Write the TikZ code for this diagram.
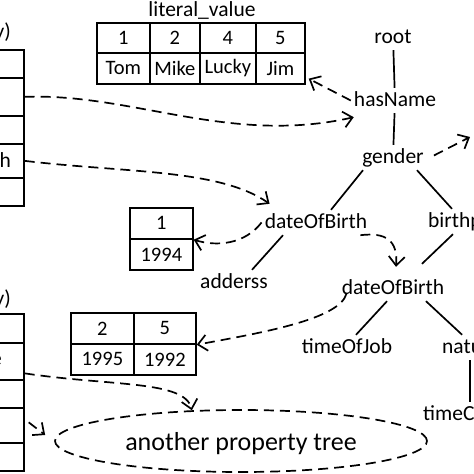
\documentclass[tikz,border=0pt]{standalone}
\usepackage{fontspec}
\setmainfont{Carlito}
\usetikzlibrary{arrows.meta,shapes.geometric}

\begin{document}
\begin{tikzpicture}[x=1pt,y=-1pt,
    word/.style={inner sep=3pt,text height=15pt,text depth=4pt,font=\fontsize{21.5}{24}\selectfont},
    cell/.style={draw,line width=1.7pt,inner sep=0pt,anchor=north west,font=\fontsize{20.5}{23}\selectfont},
    tree/.style={line width=1.7pt},
    link/.style={line width=1.7pt,dash pattern=on 10pt off 6pt,-{Straight Barb[length=9pt,width=16pt]}},
    cloud/.style={draw,ellipse,line width=1.7pt,dash pattern=on 10pt off 6pt,inner sep=0pt,minimum width=372pt,minimum height=62pt}]
    \useasboundingbox (0,0) rectangle (474,474);
    \clip (0,0) rectangle (474,474);

    \node[word,anchor=base] (lvTitle) at (202,16) {literal\_value};
    \node[cell,minimum width=53pt,minimum height=30pt] (lv1) at (96,22) {1};
    \node[cell,minimum width=50pt,minimum height=30pt] (lv2) at (149,22) {2};
    \node[cell,minimum width=56pt,minimum height=30pt] (lv4) at (199,22) {4};
    \node[cell,minimum width=49pt,minimum height=30pt] (lv5) at (255,22) {5};
    \node[cell,minimum width=53pt,minimum height=31pt] (lvTom) at (96,52) {Tom};
    \node[cell,minimum width=50pt,minimum height=31pt] (lvMike) at (149,52) {Mike};
    \node[cell,minimum width=56pt,minimum height=31pt] (lvLucky) at (199,52) {Lucky};
    \node[cell,minimum width=49pt,minimum height=31pt] (lvJim) at (255,52) {Jim};

    \node[cell,minimum width=63pt,minimum height=31pt] (dobKey) at (129,207) {1};
    \node[cell,minimum width=63pt,minimum height=31pt] (dobVal) at (129,238) {1994};

    \node[cell,minimum width=63pt,minimum height=31pt] (t2) at (70,312) {2};
    \node[cell,minimum width=62pt,minimum height=31pt] (t5) at (133,312) {5};
    \node[cell,minimum width=63pt,minimum height=31pt] (t1995) at (70,343) {1995};
    \node[cell,minimum width=62pt,minimum height=31pt] (t1992) at (133,343) {1992};

    \node[cell,minimum width=63pt,minimum height=28pt] (pa1) at (-40,49) {};
    \node[cell,minimum width=63pt,minimum height=38pt] (pa2) at (-40,77) {};
    \node[cell,minimum width=63pt,minimum height=28pt] (pa3) at (-40,115) {};
    \node[cell,minimum width=63pt,minimum height=34pt] (pa4) at (-40,143) {};
    \node[cell,minimum width=63pt,minimum height=28pt] (pa5) at (-40,177) {};
    \node[word,anchor=base east] (paHead) at (14,38) {y)};
    \node[word,anchor=base east] (paText) at (14,167) {h};

    \node[cell,minimum width=63pt,minimum height=29pt] (pb1) at (-40,313) {};
    \node[cell,minimum width=63pt,minimum height=37pt] (pb2) at (-40,342) {};
    \node[cell,minimum width=63pt,minimum height=28pt] (pb3) at (-40,379) {};
    \node[cell,minimum width=63pt,minimum height=35pt] (pb4) at (-40,407) {};
    \node[cell,minimum width=63pt,minimum height=28pt] (pb5) at (-40,442) {};
    \node[word,anchor=base east] (pbHead) at (14,305) {y)};
    \node[word,anchor=base east] (pbText) at (5,365) {e};

    \node[word,anchor=base] (root) at (393,43) {root};
    \node[word,anchor=base] (hasName) at (395,106) {hasName};
    \node[word,anchor=base] (gender) at (393,163) {gender};
    \node[word,anchor=base] (dob) at (316,228) {dateOfBirth};
    \node[word,anchor=base west] (birthp) at (425,227) {birthp};
    \node[word,anchor=base] (adderss) at (234,288) {adderss};
    \node[word,anchor=base] (dob2) at (393,294) {dateOfBirth};
    \node[word,anchor=base] (timeOfJob) at (347,353) {timeOfJob};
    \node[word,anchor=base west] (natu) at (439,353) {natu};
    \node[word,anchor=base west] (timeC) at (420,420) {timeC};

    \node[cloud] (apt) at (241,441) {};
    \node[anchor=base,font=\fontsize{26}{30}\selectfont] (aptLabel) at (241,450) {another property tree};
    \coordinate (offRight) at (470,137);

    \draw[tree] (root) -- (hasName);
    \draw[tree] (hasName) -- (gender);
    \draw[tree] ([xshift=-30pt]gender.south) -- ([xshift=15pt]dob.north);
    \draw[tree] ([xshift=24pt]gender.south) -- ([xshift=-3pt]birthp.north);
    \draw[tree] ([xshift=-2pt]birthp.south) -- ([xshift=29pt,yshift=12pt]dob2.north);
    \draw[tree] ([xshift=-33pt]dob.south) -- ([xshift=18pt]adderss.north);
    \draw[tree] ([xshift=-6pt]dob2.south) -- ([xshift=9pt]timeOfJob.north);
    \draw[tree] ([xshift=33pt]dob2.south) -- (natu.north);
    \draw[tree] ([xshift=8pt]natu.south) -- ([xshift=8pt]natu.south |- timeC.north);

    \draw[link] (hasName.west) -- ([xshift=3pt,yshift=6pt]lvJim.south east);
    \draw[link] (pa2.east) .. controls +(107,-4) and +(-124,28) .. ([xshift=3pt,yshift=-4pt]hasName.south west);
    \draw[link] ([xshift=7pt,yshift=2pt]gender.east) -- (offRight);
    \draw[link] (pa4.east) .. controls +(100,12) and +(-50,-35) .. ([xshift=8pt,yshift=6pt]dob.north west);
    \draw[link] (dob.west) .. controls +(-17,22) and +(23,7) .. (dobKey.south east);
    \draw[link] ([xshift=-10pt]dob.south east) .. controls +(25,-3) and +(2,-27) .. ([xshift=3pt,yshift=9pt]dob2.north);
    \draw[link] ([xshift=8pt,yshift=-5pt]dob2.west) .. controls +(-7,26) and +(65,-12) .. (t5.south east);
    \draw[link] ([yshift=-12pt]pb2.east) .. controls +(87,13) and +(-7,-30) .. (apt.148);
    \draw[link] ([xshift=4pt,yshift=3pt]pb4.east) -- ([xshift=-9pt,yshift=6pt]apt.west);
\end{tikzpicture}
\end{document}
